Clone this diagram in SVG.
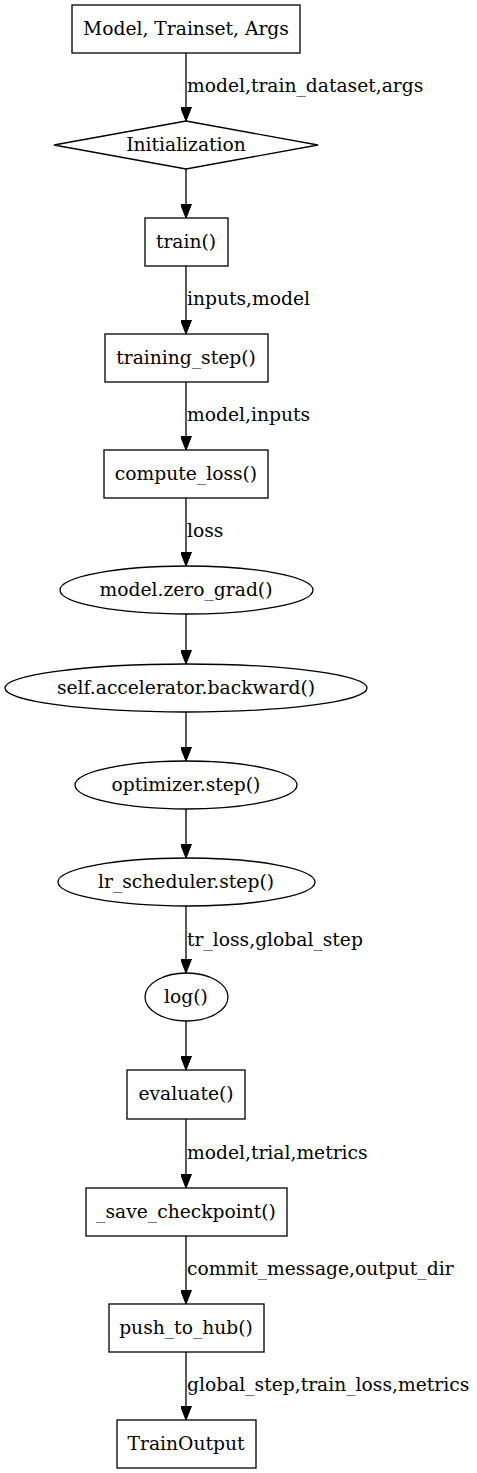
<svg xmlns="http://www.w3.org/2000/svg" width="477" height="1473" viewBox="0 0 477 1473">
<style>
.n{fill:#fff;stroke:#000;stroke-width:1.3}
text{font-family:"DejaVu Serif","Liberation Serif",serif;font-size:18.7px;fill:#000}
.c{text-anchor:middle}
.e{stroke:#000;stroke-width:1.3;fill:none}
</style>
<defs>
<marker id="ah" markerWidth="14" markerHeight="11" refX="14" refY="5.5" orient="auto" markerUnits="userSpaceOnUse">
<path d="M0,0 L14,5.5 L0,11 Z" fill="#000" stroke="#000" stroke-width="1"/>
</marker>
</defs>
<rect width="477" height="1473" fill="#fff"/>
<g id="edges">
<line class="e" x1="186" y1="53" x2="186" y2="121" marker-end="url(#ah)"/>
<text x="187" y="92">model,train_dataset,args</text>
<line class="e" x1="186" y1="169" x2="186" y2="218" marker-end="url(#ah)"/>
<line class="e" x1="186" y1="266" x2="186" y2="334" marker-end="url(#ah)"/>
<text x="187" y="305">inputs,model</text>
<line class="e" x1="186" y1="382" x2="186" y2="450" marker-end="url(#ah)"/>
<text x="187" y="421">model,inputs</text>
<line class="e" x1="186" y1="498" x2="186" y2="566" marker-end="url(#ah)"/>
<text x="187" y="537">loss</text>
<line class="e" x1="186" y1="614" x2="186" y2="664" marker-end="url(#ah)"/>
<line class="e" x1="186" y1="712" x2="186" y2="761" marker-end="url(#ah)"/>
<line class="e" x1="186" y1="809" x2="186" y2="858" marker-end="url(#ah)"/>
<line class="e" x1="186" y1="906" x2="186" y2="973" marker-end="url(#ah)"/>
<text x="187" y="946">tr_loss,global_step</text>
<line class="e" x1="186" y1="1021" x2="186" y2="1070" marker-end="url(#ah)"/>
<line class="e" x1="186" y1="1119" x2="186" y2="1188" marker-end="url(#ah)"/>
<text x="187" y="1159">model,trial,metrics</text>
<line class="e" x1="186" y1="1236" x2="186" y2="1304" marker-end="url(#ah)"/>
<text x="187" y="1275">commit_message,output_dir</text>
<line class="e" x1="186" y1="1352" x2="186" y2="1420" marker-end="url(#ah)"/>
<text x="187" y="1391">global_step,train_loss,metrics</text>
</g>
<g id="n1"><rect class="n" x="72" y="5" width="228" height="48"/><text class="c" x="186" y="35">Model, Trainset, Args</text></g>
<g id="n2"><polygon class="n" points="186,121 318,145 186,169 54,145"/><text class="c" x="186" y="151">Initialization</text></g>
<g id="n3"><rect class="n" x="145" y="218" width="83" height="48"/><text class="c" x="186" y="248">train()</text></g>
<g id="n4"><rect class="n" x="105" y="334" width="163" height="48"/><text class="c" x="186" y="364">training_step()</text></g>
<g id="n5"><rect class="n" x="104" y="450" width="164" height="48"/><text class="c" x="186" y="480">compute_loss()</text></g>
<g id="n6"><ellipse class="n" cx="186.5" cy="590" rx="126.5" ry="24"/><text class="c" x="186" y="596">model.zero_grad()</text></g>
<g id="n7"><ellipse class="n" cx="186" cy="688" rx="181" ry="24"/><text class="c" x="186" y="694">self.accelerator.backward()</text></g>
<g id="n8"><ellipse class="n" cx="186" cy="785" rx="111" ry="24"/><text class="c" x="186" y="791">optimizer.step()</text></g>
<g id="n9"><ellipse class="n" cx="186.5" cy="882" rx="128.5" ry="24"/><text class="c" x="186" y="888">lr_scheduler.step()</text></g>
<g id="n10"><ellipse class="n" cx="186.5" cy="997" rx="41.5" ry="24"/><text class="c" x="186" y="1003">log()</text></g>
<g id="n11"><rect class="n" x="127" y="1070" width="118" height="49"/><text class="c" x="186" y="1100">evaluate()</text></g>
<g id="n12"><rect class="n" x="86" y="1188" width="201" height="48"/><text class="c" x="186" y="1218">_save_checkpoint()</text></g>
<g id="n13"><rect class="n" x="109" y="1304" width="155" height="48"/><text class="c" x="186" y="1334">push_to_hub()</text></g>
<g id="n14"><rect class="n" x="117" y="1420" width="139" height="48"/><text class="c" x="186" y="1450">TrainOutput</text></g>
</svg>
